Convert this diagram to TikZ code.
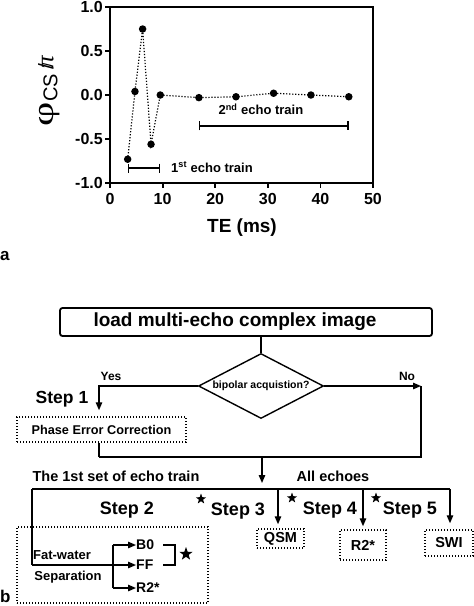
\documentclass[tikz,border=0pt]{standalone}
\usepackage{fontspec}
\usepackage{graphicx}
\setmainfont{Liberation Sans}
\newfontfamily\serfont{Liberation Serif}
\usetikzlibrary{arrows.meta,shapes.geometric}
\newcommand\myfs[1]{\fontsize{#1}{#1}\selectfont}
\begin{document}
\begin{tikzpicture}[x=1pt,y=-1pt,
  ln/.style={line width=1.4pt},
  arr/.style={ln,-{Triangle[length=8pt,width=6.5pt]}},
  dotbox/.style={draw, line width=1.5pt, dash pattern=on 1.4pt off 1.6pt, inner sep=0},
  txt/.style={inner sep=0, font=\bfseries\myfs{#1}},
  txt/.default=14,
  dots/.style={line width=1.2pt, dash pattern=on 1.2pt off 1.8pt},
  dotmark/.style={circle, fill=black, inner sep=0, minimum size=7.5pt},
  ebar/.style={line width=1.6pt, {Bar[width=9pt]}-{Bar[width=9pt]}},
  starlbl/.style={star, star points=5, star point ratio=2.5, fill=black, inner sep=0, minimum size=#1},
  starlbl/.default=11pt]
\useasboundingbox (0,0) rectangle (474,606);

% ---------------- plot (a) ----------------
\begin{scope}[shift={(110,95)},x=5.26pt,y=88pt]
  \draw[line width=2pt] (0,-1) rectangle (50,1);
  \foreach \t in {0,10,...,50} \draw[line width=1.8pt] (\t,-1) -- ++(0,-5pt);
  \foreach \v in {-1,-0.5,0,0.5,1} \draw[line width=1.8pt] (0,\v) -- ++(-5pt,0);
  \node[dotmark] (p1) at (3.36,-0.73) {};
  \node[dotmark] (p2) at (4.75,0.04) {};
  \node[dotmark] (p3) at (6.2,0.75) {};
  \node[dotmark] (p4) at (7.8,-0.56) {};
  \node[dotmark] (p5) at (9.56,0.0) {};
  \node[dotmark] (p6) at (16.9,-0.03) {};
  \node[dotmark] (p7) at (23.95,-0.02) {};
  \node[dotmark] (p8) at (31.1,0.02) {};
  \node[dotmark] (p9) at (38.2,0.0) {};
  \node[dotmark] (p10) at (45.4,-0.02) {};
  \draw[dots] (p1.center) -- (p2.center) -- (p3.center) -- (p4.center) -- (p5.center)
     -- (p6.center) -- (p7.center) -- (p8.center) -- (p9.center) -- (p10.center);
  \coordinate (e1a) at (3.36,-0.83);
  \coordinate (e1b) at (9.56,-0.83);
  \coordinate (e2a) at (16.9,-0.35);
  \coordinate (e2b) at (45.4,-0.35);
  \draw[ebar] (e1a) -- (e1b);
  \draw[ebar] (e2a) -- (e2b);
\end{scope}
\foreach \t [count=\i] in {0,10,20,30,40,50}
  \node[txt=16] (xt\i) at ({110+5.26*\t},199) {\t};
\foreach \v/\l [count=\i] in {1/1.0,0.5/0.5,0/0.0,-0.5/-0.5,-1/-1.0}
  \node[txt=16, anchor=east] (yt\i) at (103,{95-88*\v}) {\l};
\node[txt=19] (xlab) at (242,228) {TE (ms)};
\node[inner sep=0, rotate=90] (ylab) at (49,91)
  {{\serfont\myfs{30}\scalebox{1.4}[1]{φ}}\raisebox{-4pt}{\myfs{20}CS}\hspace{5pt}{\myfs{21}/}{\serfont\itshape\myfs{25}\kern-5pt π}};
\node[txt=13] (lab1) at (212,167) {1\textsuperscript{st} echo train};
\node[txt=13] (lab2) at (261,109) {2\textsuperscript{nd} echo train};
\node[txt=17, anchor=west] (pa) at (0,256) {a};

% ---------------- flowchart (b) ----------------
\node[draw, line width=1.8pt, rounded corners=2.5pt, minimum width=372pt, minimum height=28pt, txt=19] (load) at (246,322) {load multi-echo complex image\hspace*{22pt}};
\node[diamond, draw, line width=1.4pt, minimum width=125pt, minimum height=65pt, aspect=1.9, inner sep=0, font=\bfseries\myfs{10.5}] (dec) at (261,386) {bipolar acquistion?};
\draw[ln] (load.south -| dec.north) -- (dec.north);
\node[txt=12] (yes) at (111,376) {Yes};
\node[txt=12] (no) at (407,376) {No};
\node[txt=17.5] (s1) at (62,399) {Step 1};
\node[dotbox, minimum width=169pt, minimum height=25pt, font=\bfseries\myfs{12.7}] (pec) at (101.5,429.5) {Phase Error Correction};
\coordinate (yesx) at (99,386);
\draw[arr, shorten >=6pt] (dec.west) -| (pec.north -| yesx);
\coordinate (noend) at (421,386);
\draw[arr] (dec.east) -- (noend);
\coordinate (nocorner) at (421,457);
\coordinate (pcorner) at (99,457);
\draw[ln] (noend) -- (nocorner) -- (pcorner);
\draw[ln] (pec.south -| pcorner) -- (pcorner);
\coordinate (mid) at (262,457);
\coordinate (midend) at (262,489);
\draw[arr, shorten >=6pt] (mid) -- (midend);
\node[txt=14.5] (set1) at (116,476) {The 1st set of echo train};
\node[txt=14.5] (all) at (333,476) {All echoes};
\coordinate (hl) at (32,489);
\coordinate (hr) at (450,489);
\draw[ln] (hl) -- (hr);

\node[txt=18] (s2) at (127,510) {Step 2};
\node[starlbl] (st3) at (201,499) {};
\node[txt=18] (s3) at (238,511) {Step 3};
\node[starlbl] (st4) at (292,498) {};
\node[txt=18] (s4) at (330,510) {Step 4};
\node[starlbl] (st5) at (376,498) {};
\node[txt=18] (s5) at (410,510) {Step 5};

\node[dotbox, minimum width=47pt, minimum height=19pt, font=\bfseries\myfs{14.5}] (qsm) at (280.5,538.5) {QSM};
\node[dotbox, minimum width=46pt, minimum height=30pt, font=\bfseries\myfs{14.5}] (r2) at (363,545) {R2*};
\node[dotbox, minimum width=48pt, minimum height=26pt, font=\bfseries\myfs{14.5}] (swi) at (449,543) {SWI};
\coordinate (qx) at (278,489);
\coordinate (rx) at (363,489);
\draw[arr, shorten >=4pt] (qx) -- (qsm.north -| qx);
\draw[arr, shorten >=3pt] (rx) -- (r2.north -| rx);
\draw[arr, shorten >=6pt] (hr) -- (swi.north -| hr);

\node[dotbox, minimum width=191pt, minimum height=76pt] (s2box) at (112.5,565) {};
\node[txt=13] (fw) at (62,555) {Fat-water};
\node[txt=13] (sep) at (68,577) {Separation};
\node[txt=14, anchor=west] (b0) at (136,545) {B0};
\node[txt=14, anchor=west] (ff) at (136,565) {FF};
\node[txt=14, anchor=west] (r2b) at (136,588) {R2*};
\coordinate (fork) at (113,565);
\coordinate (hlturn) at (32,565);
\draw[ln] (hl) -- (hlturn);
\draw[arr] (hlturn) -- (ff.west);
\draw[arr] (fork |- b0.west) -- (b0.west);
\draw[arr] (fork |- r2b.west) -- (r2b.west);
\draw[ln] (fork |- b0.west) -- (fork |- r2b.west);
\coordinate (bra) at (163,545);
\coordinate (brb) at (175,545);
\coordinate (brc) at (175,565);
\coordinate (brd) at (163,565);
\draw[ln] (bra) -- (brb) -- (brc) -- (brd);
\node[starlbl=14pt] (stb) at (186,554) {};
\node[txt=17, anchor=west] (pb) at (0,596) {b};
\end{tikzpicture}
\end{document}
